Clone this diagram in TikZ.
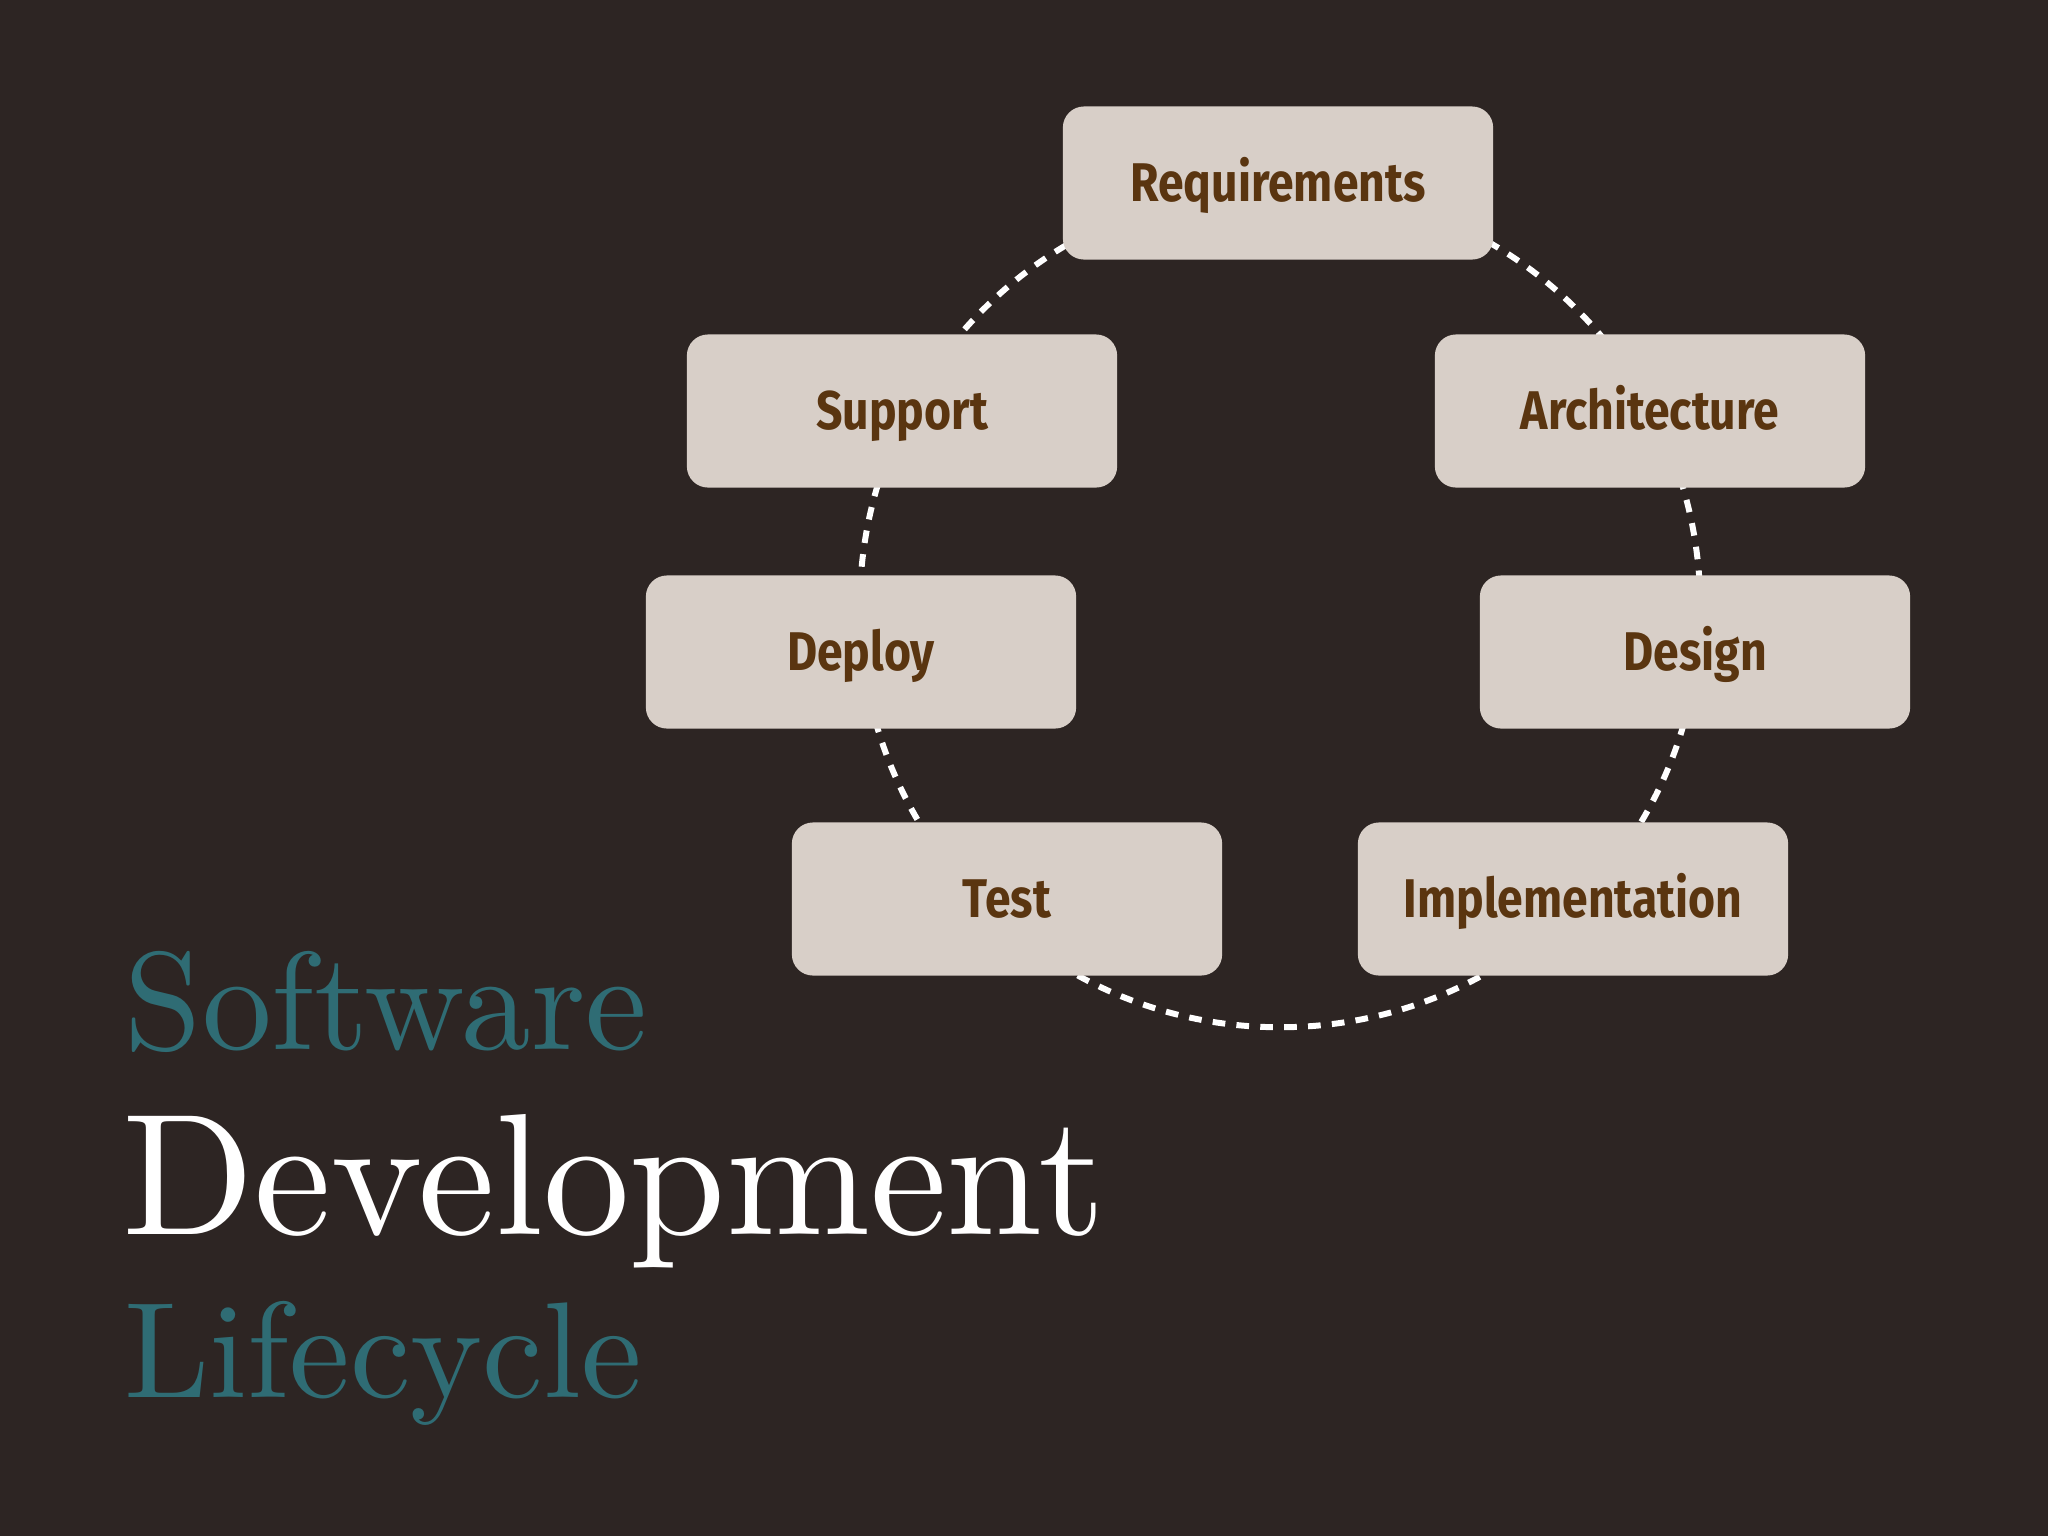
\documentclass[tikz,border=0pt]{standalone}
\usepackage{fontspec}
\newfontfamily\boxfont[FakeStretch=0.85]{Fira Sans}
\newfontfamily\titlefont{lmroman10-regular}[Extension=.otf]
\definecolor{bg}{HTML}{2D2523}
\definecolor{boxfill}{HTML}{D8CFC8}
\definecolor{boxtext}{HTML}{5A3510}
\definecolor{teal}{HTML}{2F6C74}
\begin{document}
\begin{tikzpicture}[x=0.01cm,y=-0.01cm,
  stage/.style={rectangle, rounded corners=6pt, fill=boxfill,
    minimum width=4.3cm, minimum height=1.53cm, inner sep=0pt,
    text height=10.7pt, text depth=0pt,
    font=\boxfont\bfseries\fontsize{15.5pt}{17pt}\selectfont, text=boxtext},
  ring/.style={draw=white, line width=1.7pt, dash pattern=on 3.6pt off 3.2pt},
  title/.style={anchor=base west, inner sep=0pt}]
\fill[bg] (0,0) rectangle (2048,1536);
\useasboundingbox (0,0) rectangle (2048,1536);
\coordinate (c) at (1280,607);
\draw[ring] (c) circle (4.2cm);
\node[stage] (req) at (1278,183) {Requirements};
\node[stage] (arch) at (1650,411) {Architecture};
\node[stage] (des) at (1695,652) {Design};
\node[stage] (impl) at (1573,899) {Implementation};
\node[stage] (test) at (1007,899) {Test};
\node[stage] (dep) at (861,652) {Deploy};
\node[stage] (sup) at (902,411) {Support};
\node[title, text=teal, font=\titlefont\fontsize{39.6pt}{40pt}\selectfont] (t1) at (124,1049) {Software};
\node[title, text=white, font=\titlefont\fontsize{49.2pt}{50pt}\selectfont] (t2) at (122,1234) {Development};
\node[title, text=teal, font=\titlefont\fontsize{38.8pt}{40pt}\selectfont] (t3) at (124,1397) {Lifecycle};
\end{tikzpicture}
\end{document}
